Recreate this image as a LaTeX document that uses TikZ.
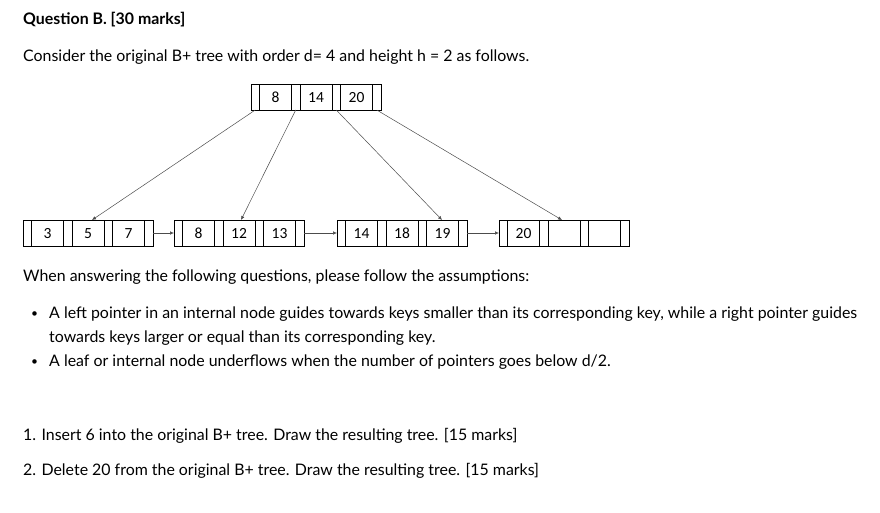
\documentclass[tikz,border=0pt]{standalone}
\usepackage{fontspec}
\setmainfont{Lato}
\newfontfamily\cellfont{Carlito}
\usetikzlibrary{arrows.meta}
\begin{document}
\begin{tikzpicture}[x=1pt,y=-1pt,
  txt/.style={anchor=base west,inner sep=0pt,font=\fontsize{15.9}{18}\selectfont},
  lbl/.style={font=\cellfont\fontsize{15.5}{17}\selectfont,inner sep=0pt,anchor=base},
  link/.style={draw=black!70,line width=0.5pt,-{Latex[length=4pt,width=3.5pt]}}]
\useasboundingbox (0,0) rectangle (880,513);
\newcommand{\bnode}[5]{%
  \foreach \i/\k in {#4}{
    \pgfmathsetmacro{\xa}{#2+\i*40.5}
    \draw[line width=0.8pt] (\xa,#3) rectangle ++(8.5,26);
    \draw[line width=0.8pt] (\xa+8.5,#3) rectangle ++(32,26);
    \node[lbl] at (\xa+24.5,#3+18.5) {\k};
  }
  \draw[line width=0.8pt] (#2+121.5,#3) rectangle ++(8.5,26);
  \coordinate (#1-in) at (#2,#3+13);
  \coordinate (#1-out) at (#2+130,#3+13);
  \foreach \j in {0,1,2,3}{\coordinate (#1-p\j) at (#2+4.25+\j*40.5,#3+26);}
}
\node[txt,font=\bfseries\fontsize{15.9}{18}\selectfont] (title) at (23,25) {Question B. [30 marks]};
\node[txt] (intro) at (23,62) {Consider the original B+ tree with order d= 4 and height h = 2 as follows.};
\bnode{root}{251}{84}{0/8,1/14,2/20}{}
\bnode{la}{23}{220}{0/3,1/5,2/7}{}
\bnode{lb}{174}{220}{0/8,1/12,2/13}{}
\bnode{lc}{337}{220}{0/14,1/18,2/19}{}
\bnode{ld}{499}{220}{0/20,1/{},2/{}}{}
\coordinate (ta) at (92,220); \coordinate (tb) at (241,220);
\coordinate (tc) at (442,220); \coordinate (td) at (562,220);
\draw[link] (root-p0) -- (ta);
\draw[link] (root-p1) -- (tb);
\draw[link] (root-p2) -- (tc);
\draw[link] (root-p3) -- (td);
\draw[link] (la-out) -- (lb-in);
\draw[link] (lb-out) -- (lc-in);
\draw[link] (lc-out) -- (ld-in);
\node[txt] (when) at (23,281) {When answering the following questions, please follow the assumptions:};
\node[txt,font=\fontsize{12}{14}\selectfont] (b1) at (31,317) {\textbullet};
\node[txt] (a1) at (49,318) {A left pointer in an internal node guides towards keys smaller than its corresponding key, while a right pointer guides};
\node[txt] (a1b) at (49,342) {towards keys larger or equal than its corresponding key.};
\node[txt,font=\fontsize{12}{14}\selectfont] (b2) at (31,365) {\textbullet};
\node[txt] (a2) at (49,366) {A leaf or internal node underflows when the number of pointers goes below d/2.};
\node[txt] (q1) at (23,440) {1. Insert 6 into the original B+ tree. Draw the resulting tree. [15 marks]};
\node[txt] (q2) at (23,475) {2. Delete 20 from the original B+ tree. Draw the resulting tree. [15 marks]};
\end{tikzpicture}
\end{document}
